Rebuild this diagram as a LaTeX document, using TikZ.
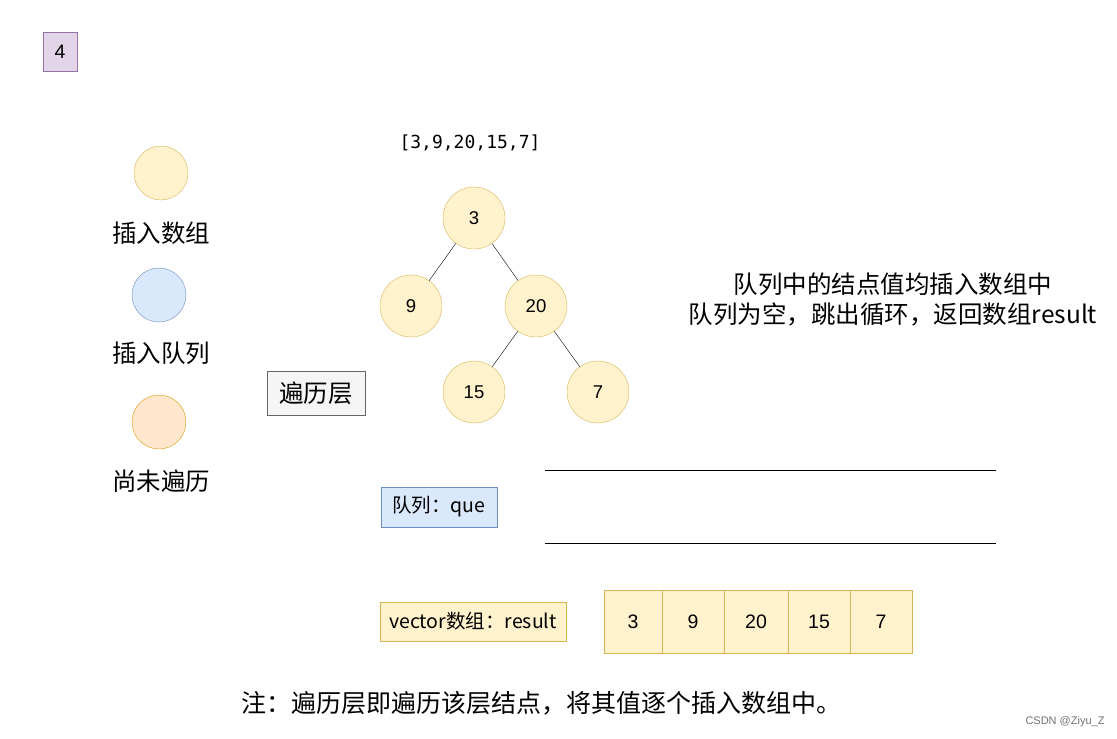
\documentclass[tikz,border=0pt]{standalone}
\usepackage{fontspec}
\setmainfont{Liberation Sans}
\newfontfamily\cjk{Noto Sans CJK SC}
\setmonofont{DejaVu Sans Mono}
\definecolor{yf}{HTML}{FFF2CC}\definecolor{yd}{HTML}{D6B656}
\definecolor{bf}{HTML}{DAE8FC}\definecolor{bd}{HTML}{6C8EBF}
\definecolor{of}{HTML}{FFE6CC}\definecolor{od}{HTML}{D79B00}
\definecolor{pf}{HTML}{E1D5E7}\definecolor{pd}{HTML}{9673A6}
\begin{document}
\begin{tikzpicture}[x=1pt,y=-1pt,
 tn/.style={circle,draw=yd,fill=yf,minimum size=62pt,inner sep=0pt,font=\fontsize{18.5}{20}\selectfont},
 lab/.style={font=\cjk\fontsize{24.5}{28}\selectfont},
 cell/.style={draw=yd,fill=yf,minimum height=63pt,inner sep=0pt,font=\fontsize{19.5}{22}\selectfont}]
\useasboundingbox[fill=white] (0,0) rectangle (1117,739);
\node[draw=pd,fill=pf,minimum width=34pt,minimum height=39pt,inner sep=0pt,font=\fontsize{19.5}{22}\selectfont] (four) at (60,51.5) {4};
\node[circle,draw=yd,fill=yf,minimum size=54pt] (l1) at (161,173) {};
\node[lab] (t1) at (161,233) {插入数组};
\node[circle,draw=bd,fill=bf,minimum size=54pt] (l2) at (159,295) {};
\node[lab] (t2) at (161,353) {插入队列};
\node[circle,draw=od,fill=of,minimum size=54pt] (l3) at (159,422) {};
\node[lab] (t3) at (161,481) {尚未遍历};
\node[font=\ttfamily\fontsize{18}{20}\selectfont] (arr) at (470,143) {[3,9,20,15,7]};
\node[tn] (n3) at (474,218) {3};
\node[tn] (n9) at (411,306) {9};
\node[tn] (n20) at (536,306) {20};
\node[tn] (n15) at (474,392) {15};
\node[tn] (n7) at (598,392) {7};
\draw (n3)--(n9); \draw (n3)--(n20); \draw (n20)--(n15); \draw (n20)--(n7);
\node[draw=black!60,fill=black!4,minimum width=98pt,minimum height=44pt,inner sep=0pt,lab] (layer) at (316,393) {遍历层};
\node[align=center,font=\cjk\fontsize{24.5}{30}\selectfont] (msg) at (893,299) {队列中的结点值均插入数组中\\队列为空，跳出循环，返回数组result};
\coordinate (a1) at (545,470); \coordinate (a2) at (996,470);
\coordinate (b1) at (545,543); \coordinate (b2) at (996,543);
\draw (a1)--(a2); \draw (b1)--(b2);
\node[draw=bd,fill=bf,minimum width=116pt,minimum height=40pt,inner sep=0pt,font=\cjk\fontsize{19.5}{22}\selectfont] (que) at (439,507) {队列：que};
\node[draw=yd,fill=yf,minimum width=186pt,minimum height=39pt,inner sep=0pt,font=\cjk\fontsize{19.5}{22}\selectfont] (vec) at (473,621.5) {vector数组：result};
\node[cell,minimum width=58pt] (c1) at (633,621.5) {3};
\node[cell,minimum width=62pt] (c2) at (693,621.5) {9};
\node[cell,minimum width=64pt] (c3) at (756,621.5) {20};
\node[cell,minimum width=62pt] (c4) at (819,621.5) {15};
\node[cell,minimum width=62pt] (c5) at (881,621.5) {7};
\node[font=\cjk\fontsize{25}{28}\selectfont] (note) at (541,703) {注：遍历层即遍历该层结点，将其值逐个插入数组中。};
\node[font=\fontsize{11}{12}\selectfont,text=black!55] (csdn) at (1065,722) {CSDN @Ziyu\_Z};
\end{tikzpicture}
\end{document}
